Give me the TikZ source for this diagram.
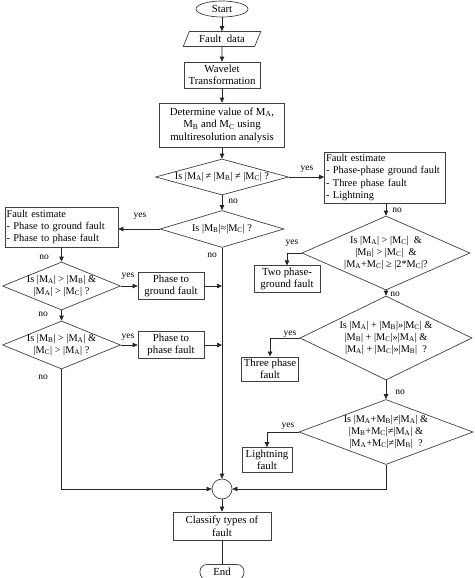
\documentclass[tikz,border=0pt]{standalone}
\usepackage{fontspec}
\setmainfont{Liberation Serif}
\usetikzlibrary{shapes.geometric,arrows.meta}
\newcommand\MM[1]{M\textsubscript{#1}}
\begin{document}
\begin{tikzpicture}[x=1pt,y=-1pt,
  font=\fontsize{10.8}{12.6}\selectfont,
  line/.style={draw=black!85, line width=0.7pt},
  arr/.style={line, -{Triangle[length=5pt,width=4.5pt]}},
  box/.style={draw=black!75, line width=0.7pt, inner sep=2pt, align=center},
  lbox/.style={draw=black!75, line width=0.7pt, inner sep=1.5pt, align=left, font=\fontsize{10.4}{12.4}\selectfont},
  dia/.style={diamond, draw=black!75, line width=0.7pt, inner sep=0pt},
  dtext/.style={font=\fontsize{10.3}{12}\selectfont, align=center, inner sep=0pt},
  lbl/.style={font=\fontsize{9.5}{10}\selectfont, inner sep=1pt},
]
\useasboundingbox (0,0) rectangle (474,578);

% main column
\node[ellipse, draw=black!75, line width=0.7pt, minimum width=52pt, minimum height=16pt, inner sep=0pt] (start) at (222,9) {Start};
\node[trapezium, trapezium left angle=65, trapezium right angle=115, trapezium stretches=true, draw=black!75, line width=0.7pt, minimum width=78pt, minimum height=15pt, inner sep=1pt] (data) at (222,39) {Fault\ \ data};
\node[box, minimum width=76pt, minimum height=26pt] (wav) at (222,75) {Wavelet\\Transformation};
\node[box, minimum width=125pt, minimum height=44pt] (det) at (222,125) {Determine value of \MM{A},\\\MM{B} and \MM{C} using\\multiresolution analysis};

\node[dia, minimum width=133pt, minimum height=36pt] (d1) at (222,177) {};
\node[dtext] (d1t) at (d1.center) {Is |\MM{A}|\,≠ |\MM{B}| ≠ |\MM{C}| ?};

\node[dia, minimum width=124pt, minimum height=37pt] (d2) at (222,229) {};
\node[dtext] (d2t) at (d2.center) {Is |\MM{B}|≈|\MM{C}| ?};

% left branch
\node[lbox, text width=110pt, minimum height=40pt] (fe2) at (61.5,227) {Fault estimate\\- Phase to ground fault\\- Phase to phase fault};
\node[dia, minimum width=118pt, minimum height=48pt] (d3) at (61.5,286) {};
\node[dtext] (d3t) at (d3.center) {Is |\MM{A}| > |\MM{B}| \&\\|\MM{A}| > |\MM{C}| ?};
\node[dia, minimum width=118pt, minimum height=48pt] (d4) at (61.5,345) {};
\node[dtext] (d4t) at (d4.center) {Is |\MM{B}| > |\MM{A}| \&\\|\MM{C}| > |\MM{A}| ?};
\node[box, minimum width=66pt, minimum height=27pt] (pg) at (171,286) {Phase to\\ground fault};
\node[box, minimum width=66pt, minimum height=27pt] (pp) at (171,345) {Phase to\\phase fault};

% right branch
\node[lbox, text width=118pt, minimum height=51pt] (fe1) at (385,177.5) {Fault estimate\\- Phase-phase ground fault\\- Three phase fault\\- Lightning};
\node[dia, minimum width=168pt, minimum height=74pt] (d5) at (386,253) {};
\node[dtext] (d5t) at (d5.center) {Is |\MM{A}| > |\MM{C}|\ \ \&\\|\MM{B}| > |\MM{C}|\ \ \&\\|\MM{A}+\MM{C}| ≥ |2*\MM{C}|?};
\node[box, minimum width=66pt, minimum height=24pt] (tpg) at (287,279) {Two phase-\\ground fault};
\node[dia, minimum width=172pt, minimum height=84pt] (d6) at (386,338) {};
\node[dtext] (d6t) at (d6.center) {Is |\MM{A}| + |\MM{B}|»|\MM{C}| \&\\|\MM{B}| + |\MM{C}|»|\MM{A}| \&\\|\MM{A}| + |\MM{C}|»|\MM{B}|\ \ ?};
\node[box, minimum width=55pt, minimum height=24pt] (tpf) at (270,369) {Three phase\\fault};
\node[dia, minimum width=174pt, minimum height=65pt] (d7) at (386,432) {};
\node[dtext] (d7t) at (d7.center) {Is |\MM{A}+\MM{B}|≠|\MM{A}| \&\\|\MM{B}+\MM{C}|≠|\MM{A}| \&\\|\MM{A}+\MM{C}|≠|\MM{B}|\ \ ?};
\node[box, minimum width=50pt, minimum height=25pt] (lf) at (267,460) {Lightning\\fault};

% bottom
\node[circle, draw=black!75, line width=0.7pt, minimum size=20pt, inner sep=0pt] (junc) at (222,489) {};
\node[box, minimum width=98pt, minimum height=28pt] (cls) at (222,526) {Classify types of\\fault};
\node[draw=black!75, line width=0.7pt, rounded corners=7pt, minimum width=44pt, minimum height=15pt, inner sep=1pt] (end) at (222,572) {End};

% connectors
\draw[arr] (start) -- (data);
\draw[arr] (data) -- (wav);
\draw[arr] (wav) -- (det);
\draw[arr] (det) -- (d1);
\draw[arr] (d1.east) -- (d1.east -| fe1.west);
\draw[arr] (d1.south) -- (d2.north);
\draw[arr] (d2.west) -- (d2.west -| fe2.east);
\draw[arr] (d2.south) -- (junc.north);
\draw[arr] (fe2.south) -- (d3.north);
\draw[arr] (d3.east) -- (pg.west);
\draw[arr] (d3.south) -- (d4.north);
\draw[arr] (d4.east) -- (pp.west);
\draw[arr] (pg.east) -- (pg.east -| d2.south);
\draw[arr] (pp.east) -- (pp.east -| d2.south);
\draw[arr] (d4.south) |- (junc.west);
\draw[arr] (junc.south) -- (cls.north);
\draw[line] (cls.south) -- (end.north);
\draw[arr] (fe1.south -| d5.north) -- (d5.north);
\draw[arr] (d5.west) -| (tpg.north);
\draw[arr] (d5.south) -- (d6.north);
\draw[arr] (d6.west) -| (tpf.north);
\draw[arr] (d6.south) -- (d7.north);
\draw[arr] (d7.west) -| (lf.north);
\draw[arr] (d7.south) |- (junc.east);

% labels
\node[lbl] (y1) at (307,169) {yes};
\node[lbl] (y2) at (140,216) {yes};
\node[lbl] (y3) at (128,276) {yes};
\node[lbl] (y4) at (128,337) {yes};
\node[lbl] (y5) at (292,243) {yes};
\node[lbl] (y6) at (290,334) {yes};
\node[lbl] (y7) at (288,426) {yes};
\node[lbl] (n1) at (233,201) {no};
\node[lbl] (n2) at (212,255) {no};
\node[lbl] (n3) at (44,257) {no};
\node[lbl] (n4) at (43,314) {no};
\node[lbl] (n5) at (43,377) {no};
\node[lbl] (n6) at (397,210) {no};
\node[lbl] (n7) at (395,294) {no};
\node[lbl] (n8) at (400,392) {no};
\end{tikzpicture}
\end{document}
